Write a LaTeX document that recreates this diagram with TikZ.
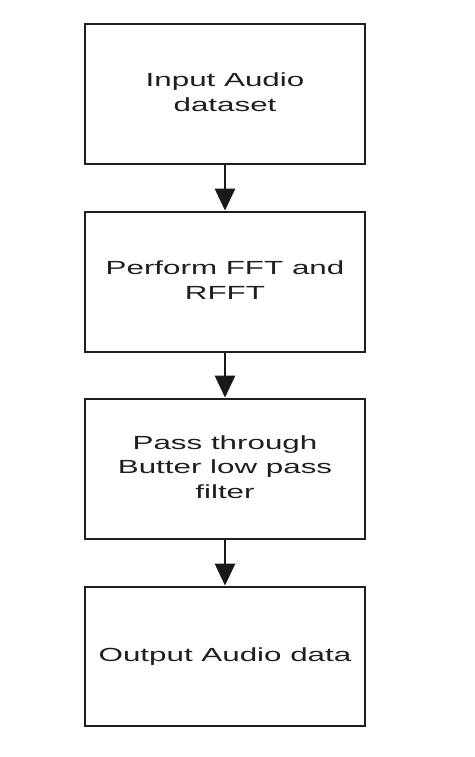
\documentclass[tikz,border=0pt]{standalone}
\usepackage{fontspec}
\usepackage{graphicx}
\setmainfont{Liberation Sans}
\usetikzlibrary{arrows.meta}
\newcommand{\widetext}[1]{\scalebox{1.65}[1]{\fontsize{19}{24.5}\selectfont\begin{tabular}{@{}c@{}}#1\end{tabular}}}
\begin{document}
\begin{tikzpicture}[x=1pt,y=-1pt,
  stepbox/.style={draw=black!88, line width=2.8pt, minimum width=280pt, minimum height=140pt, inner sep=0pt, text=black!88},
  flow/.style={draw=black!90, line width=2.8pt, -{Triangle[width=20pt,length=22pt]}}]
\useasboundingbox[fill=white] (0,0) rectangle (474,757);
\node[stepbox] (b1) at (225,94) {\widetext{Input Audio\\dataset}};
\node[stepbox] (b2) at (225,282) {\widetext{Perform FFT and\\RFFT}};
\node[stepbox] (b3) at (225,469) {\widetext{Pass through\\Butter low pass\\filter}};
\node[stepbox, minimum height=139pt] (b4) at (225,656.5) {\widetext{Output Audio data}};
\draw[flow] (b1) -- (b2);
\draw[flow] (b2) -- (b3);
\draw[flow] (b3) -- (b4);
\end{tikzpicture}
\end{document}
